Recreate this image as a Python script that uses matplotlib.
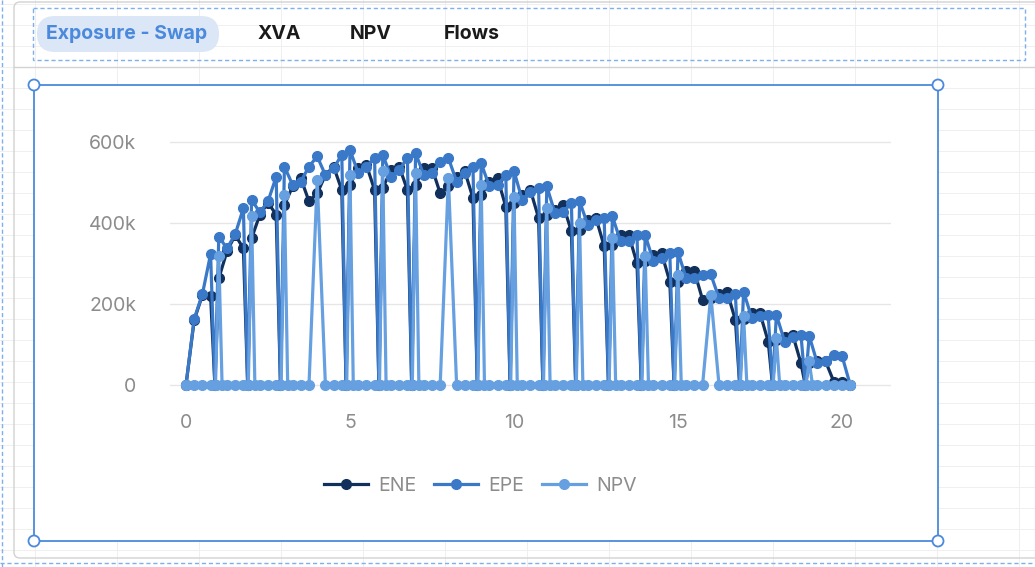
import numpy as np
import matplotlib.pyplot as plt
from matplotlib.patches import FancyBboxPatch, Rectangle, Circle
from matplotlib.ticker import FuncFormatter

plt.rcParams['font.family'] = ['Inter', 'DejaVu Sans']

# quarterly exposure grid (years)
times = np.arange(0, 20.26, 0.25)

# values in thousands
ene = [0, 160, 222, 220, 263, 330, 370, 337, 362, 420, 450, 420, 444,
       490, 510, 453, 473, 518, 539, 481, 494, 535, 543, 481, 486,
       531, 539, 481, 494, 535, 535, 473, 490, 514, 527, 461, 469,
       500, 510, 440, 449, 469, 481, 412, 420, 432, 444, 379, 383,
       407, 412, 342, 346, 370, 370, 300, 305, 321, 325, 255, 255,
       280, 280, 210, 215, 225, 229, 160, 162, 177, 177, 107, 111,
       119, 123, 53, 53, 58, 58, 8, 8, 0]
epe = [0, 163, 224, 323, 366, 337, 372, 436, 457, 426, 453, 514, 539,
       494, 502, 539, 564, 518, 535, 568, 580, 523, 539, 560, 568,
       514, 531, 560, 572, 518, 523, 551, 560, 502, 523, 539, 547,
       490, 494, 518, 528, 457, 477, 486, 490, 424, 428, 449, 453,
       395, 407, 412, 416, 354, 354, 370, 370, 305, 313, 325, 328,
       263, 263, 272, 273, 214, 214, 224, 230, 165, 169, 173, 173,
       107, 119, 123, 121, 53, 58, 74, 72, 0]
npv_years = [1, 2, 3, 4, 5, 6, 7, 8, 9, 10, 11, 12, 13, 14, 15, 16, 17, 18, 19]
npv_peaks = [317, 416, 469, 506, 518, 527, 523, 510, 494, 465, 436, 399,
             362, 317, 272, 222, 169, 115, 58]

# extra dates around payments where the profiles drop to zero
dip_times = [0.88, 1.88, 2.88, 4.88, 5.88, 6.88, 8.88, 9.88, 10.88, 11.88,
             12.88, 13.88, 14.88, 16.88, 17.88, 18.88]
npv_zero_times = [0.9, 1.1, 1.9, 2.1, 2.9, 3.1, 4.9, 5.1, 5.9, 6.1, 6.9, 7.1,
                  8.9, 9.1, 9.9, 10.1, 10.9, 11.1, 11.9, 12.1, 12.9, 13.1,
                  13.9, 14.1, 14.9, 15.1, 16.9, 17.1, 17.9, 18.1, 18.9, 19.1]

c_ene = '#12305c'
c_epe = '#3a78c8'
c_npv = '#66a0e0'


def merge(t, v, extra):
    tt = np.concatenate([t, extra])
    vv = np.concatenate([v, np.zeros(len(extra))])
    o = np.argsort(tt, kind='stable')
    return tt[o], vv[o]


npv = np.zeros(len(times))
for yr, pk in zip(npv_years, npv_peaks):
    npv[int(round(yr * 4))] = pk

ene_t, ene_v = merge(times, np.array(ene, float), dip_times)
epe_t, epe_v = merge(times, np.array(epe, float), dip_times)
npv_t, npv_v = merge(times, npv, npv_zero_times)

W, H = 1035, 567
fig = plt.figure(figsize=(W / 100, H / 100), dpi=100)

# background "page" in pixel coords
bg = fig.add_axes([0, 0, 1, 1], zorder=0)
bg.set_xlim(0, W)
bg.set_ylim(H, 0)
bg.axis('off')

for yy in np.arange(4, H, 21):
    bg.plot([0, W], [yy, yy], color='#efefef', lw=0.7, zorder=0)
for xx in np.arange(35, W, 82):
    bg.plot([xx, xx], [0, H], color='#efefef', lw=0.7, zorder=0)

# outer panel
bg.add_patch(FancyBboxPatch((14, 2), 1040, 556, boxstyle='round,pad=0,rounding_size=6',
                            fc='none', ec='#d2d2d2', lw=1.0, zorder=1))
bg.plot([14, W], [67, 67], color='#d2d2d2', lw=1.0, zorder=1)

# tab bar
bg.add_patch(Rectangle((33, 8), 992, 52, fill=False, ec='#7fb0ec', lw=1, ls=(0, (3, 2)), zorder=2))
bg.add_patch(FancyBboxPatch((37, 16), 182, 36, boxstyle='round,pad=0,rounding_size=18',
                            fc='#dbe6f6', ec='none', zorder=2))
bg.text(127, 34, 'Exposure - Swap', color='#4a89dc', fontsize=14, fontweight='bold',
        ha='center', va='center', zorder=3)
for lbl, xx in [('XVA', 279), ('NPV', 371), ('Flows', 472)]:
    bg.text(xx, 34, lbl, color='#1a1a1a', fontsize=14, fontweight='bold',
            ha='center', va='center', zorder=3)

# page edges
bg.plot([2, 2], [0, H], color='#7fb0ec', lw=1, ls=(0, (3, 2)), zorder=2)
bg.plot([0, W], [563, 563], color='#7fb0ec', lw=1, ls=(0, (3, 2)), zorder=2)

# selected chart frame
bg.add_patch(Rectangle((34, 85), 904, 456, fc='white', ec='#4a89dc', lw=1.3, zorder=2))
for cx, cy in [(34, 85), (938, 85), (34, 541), (938, 541)]:
    bg.add_patch(Circle((cx, cy), 5.5, fc='white', ec='#4a89dc', lw=1.3, zorder=3))

# chart
ax = fig.add_axes([169.6 / W, 1 - 395 / H, 721.6 / W, 289.6 / H], zorder=1)
ax.set_facecolor('none')
ax.set_xlim(-0.5, 21.5)
ax.set_ylim(-25, 690)

kw = dict(lw=2.3, marker='o', markersize=7, solid_joinstyle='round')
ax.plot(ene_t, ene_v, color=c_ene, label='ENE', **kw)
ax.plot(epe_t, epe_v, color=c_epe, label='EPE', **kw)
ax.plot(npv_t, npv_v, color=c_npv, label='NPV', **kw)

ax.set_yticks([0, 200, 400, 600])
ax.set_xticks([0, 5, 10, 15, 20])
ax.yaxis.set_major_formatter(FuncFormatter(lambda v, p: '0' if v == 0 else '%dk' % v))
ax.grid(axis='y', color='#e6e6e6', lw=1)
ax.set_axisbelow(True)
for s in ax.spines.values():
    s.set_visible(False)
ax.tick_params(length=0, labelcolor='#8c8c8c', labelsize=14)
ax.tick_params(axis='y', pad=24)
ax.tick_params(axis='x', pad=14)

fig.legend(loc='center', bbox_to_anchor=(480 / W, 1 - 486 / H), ncol=3, frameon=False,
           fontsize=14, labelcolor='#8c8c8c', handlelength=2.3, columnspacing=0.9,
           handletextpad=0.5, markerscale=1.0)

fig.savefig('out.png', dpi=100)
